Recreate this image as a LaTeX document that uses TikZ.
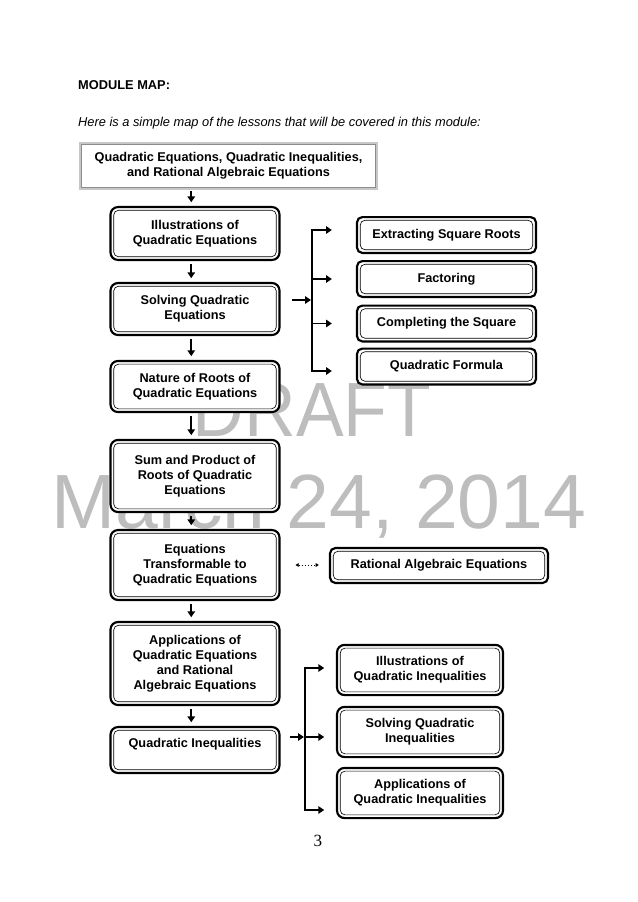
\documentclass[tikz,border=0pt]{standalone}
\usepackage{fontspec}
\setmainfont{Liberation Sans}
\newfontfamily\pagefont{Liberation Serif}
\usetikzlibrary{arrows.meta,positioning}

\begin{document}
\begin{tikzpicture}[x=0.329mm, y=-0.329mm,
    box_text/.style={align=center, font=\bfseries\fontsize{11.9}{14}\selectfont},
    lesson_box/.style={box_text, draw, line width=2pt, rounded corners=7pt, fill=white, inner sep=1pt,
        minimum width=55.6mm,
        path picture={\draw[line width=0.6pt, rounded corners=4.5pt]
            ([shift={(3pt,3pt)}]path picture bounding box.south west) rectangle
            ([shift={(-3pt,-3pt)}]path picture bounding box.north east);}},
    topic_box/.style={lesson_box, rounded corners=5pt, minimum width=58.9mm, minimum height=11.8mm},
    ineq_box/.style={lesson_box, minimum width=54.6mm, minimum height=16.5mm},
    head_box/.style={box_text, draw=black!22, line width=2.6pt, fill=white, inner sep=1pt,
        minimum width=97.7mm, minimum height=15.1mm,
        path picture={\draw[black!45, line width=0.5pt]
            ([shift={(1.6pt,1.6pt)}]path picture bounding box.south west) rectangle
            ([shift={(-1.6pt,-1.6pt)}]path picture bounding box.north east);}},
    flow_arrow/.style={line width=1.8pt, -{Triangle[length=5.5pt,width=7pt]}, shorten <=3pt, shorten >=3.5pt},
    fork_arrow/.style={line width=1.8pt, -{Triangle[length=5.5pt,width=7pt]}},
    link_arrow/.style={line width=0.9pt, dotted, {Triangle[length=3pt,width=3.5pt]}-{Triangle[length=3pt,width=3.5pt]}},
    watermark/.style={black!26, inner sep=0, font=\fontsize{72}{72}\selectfont}]

	\useasboundingbox (0,0) rectangle (638,902);

	% watermark behind the boxes
	\node[watermark, anchor=base] (draft) at (312,436) {\scalebox{0.93}[1]{DRAFT}};
	\node[watermark, anchor=base] (date) at (319,528) {March 24, 2014};

	\node[anchor=base west, inner sep=0, font=\bfseries\fontsize{12}{14}\selectfont] (title) at (78,89) {MODULE MAP:};
	\node[anchor=base west, inner sep=0, font=\itshape\fontsize{12}{14}\selectfont] (intro) at (78,126)
		{Here is a simple map of the lessons that will be covered in this module:};

	\node[head_box] (main) at (228.5,166) {Quadratic Equations, Quadratic Inequalities,\\and Rational Algebraic Equations};

	\node[lesson_box, minimum height=17.4mm] (illus) at (195,233.5) {Illustrations of\\Quadratic Equations};
	\node[lesson_box, minimum height=17.1mm] (solving) at (195,309) {Solving Quadratic\\Equations};
	\node[lesson_box, minimum height=16.8mm] (nature) at (195,386.5) {Nature of Roots of\\Quadratic Equations};
	\node[lesson_box, minimum height=23.7mm] (sumprod) at (195,476) {Sum and Product of\\Roots of Quadratic\\Equations};
	\node[lesson_box, minimum height=23mm] (transf) at (195,565) {Equations\\Transformable to\\Quadratic Equations};
	\node[lesson_box, minimum height=27.3mm] (appl) at (195,663.5) {Applications of\\Quadratic Equations\\and Rational\\Algebraic Equations};
	\node[lesson_box, minimum height=15.1mm] (ineq) at (195,750) {Quadratic Inequalities\\\mbox{}};

	\node[topic_box] (extract) at (446.5,235) {Extracting Square Roots};
	\node[topic_box] (factor) at (446.5,279) {Factoring};
	\node[topic_box] (complete) at (446.5,323.5) {Completing the Square};
	\node[topic_box] (formula) at (446.5,366.5) {Quadratic Formula};

	\node[topic_box, minimum width=71.7mm, minimum height=11.5mm] (rational) at (439,565.5) {Rational Algebraic Equations};

	\node[ineq_box] (illusq) at (420,670) {Illustrations of\\Quadratic Inequalities};
	\node[ineq_box] (solvq) at (420,732) {Solving Quadratic\\Inequalities};
	\node[ineq_box] (applq) at (420,793) {Applications of\\Quadratic Inequalities};

	\node[font=\pagefont\fontsize{16}{16}\selectfont] (pagenum) at (318,841) {3};

	% main column
	\draw[flow_arrow, shorten <=1pt] ([xshift=-3.5pt]illus.north |- main.south) -- ([xshift=-3.5pt]illus.north);
	\draw[flow_arrow] ([xshift=-3.5pt]illus.south) -- ([xshift=-3.5pt]solving.north);
	\draw[flow_arrow] ([xshift=-3.5pt]solving.south) -- ([xshift=-3.5pt]nature.north);
	\draw[flow_arrow] ([xshift=-3.5pt]nature.south) -- ([xshift=-3.5pt]sumprod.north);
	\draw[flow_arrow] ([xshift=-3.5pt]sumprod.south) -- ([xshift=-3.5pt]transf.north);
	\draw[flow_arrow] ([xshift=-3.5pt]transf.south) -- ([xshift=-3.5pt]appl.north);
	\draw[flow_arrow] ([xshift=-3.5pt]appl.south) -- ([xshift=-3.5pt]ineq.north);

	% ways of solving
	\coordinate (fork1) at (312,300);
	\coordinate (fork1top) at (312,230);
	\coordinate (fork1bot) at (312,371);
	\draw[fork_arrow, shorten <=10.5pt, shorten >=1pt] (solving.east |- fork1) -- (fork1);
	\draw[fork_arrow, shorten >=22.5pt] (fork1) |- (fork1top -| extract.west);
	\draw[fork_arrow, shorten >=22.5pt] (fork1 |- factor) -- (factor.west);
	\draw[fork_arrow, shorten >=22.5pt] (fork1 |- complete) -- (complete.west);
	\draw[fork_arrow, shorten >=22.5pt] (fork1) |- (fork1bot -| formula.west);

	\draw[link_arrow, shorten <=14pt, shorten >=9.5pt] (transf.east) -- (transf.east -| rational.west);

	% inequalities
	\coordinate (fork2) at (305,737);
	\coordinate (fork2top) at (305,668);
	\coordinate (fork2bot) at (305,810);
	\draw[fork_arrow, shorten <=9pt, shorten >=1pt] (ineq.east |- fork2) -- (fork2);
	\draw[fork_arrow, shorten >=11pt] (fork2) |- (fork2top -| illusq.west);
	\draw[fork_arrow, shorten >=11pt] (fork2) -- (fork2 -| solvq.west);
	\draw[fork_arrow, shorten >=11pt] (fork2) |- (fork2bot -| applq.west);
\end{tikzpicture}
\end{document}
